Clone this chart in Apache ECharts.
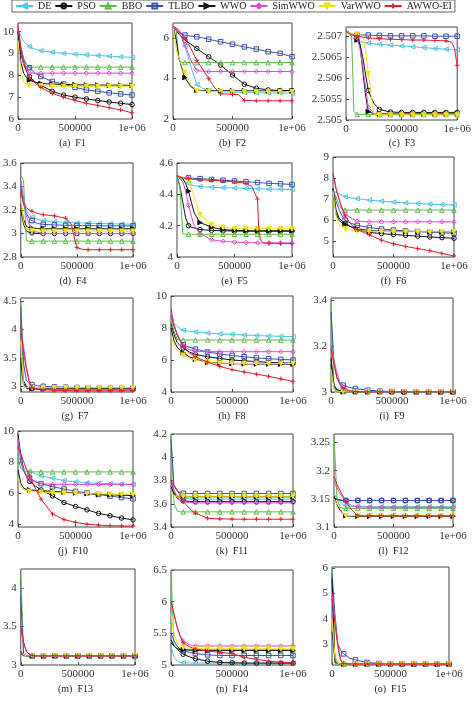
<!DOCTYPE html>
<html>
<head>
<meta charset="utf-8">
<script src="https://cdn.jsdelivr.net/npm/echarts@6/dist/echarts.min.js"></script>
<style>
  html, body { margin: 0; padding: 0; background: #fff; }
  #main { width: 474px; height: 707px; }
</style>
</head>
<body>
<div id="main"></div>
<script>
(function () {
    // algorithms, in legend order
    var ALGS = ['DE', 'PSO', 'BBO', 'TLBO', 'WWO', 'SimWWO', 'VarWWO', 'AWWO-EI'];

    // function evaluations (x) at which values were read
    var XS = [0, 25000, 50000, 75000, 100000, 150000, 200000, 300000, 400000, 500000, 600000, 700000, 800000, 900000, 1000000];
    var XS_F2 = [0, 25000, 50000, 75000, 100000, 150000, 200000, 250000, 300000, 350000, 400000, 500000, 550000, 600000, 700000, 800000, 900000, 1000000];
    var XS_F3 = [0, 25000, 50000, 60000, 70000, 100000, 125000, 150000, 175000, 200000, 250000, 300000, 400000, 500000, 600000, 700000, 800000, 900000, 950000, 975000, 1000000];
    var XS_F4 = [0, 25000, 50000, 75000, 100000, 150000, 200000, 300000, 400000, 450000, 475000, 500000, 550000, 600000, 700000, 800000, 900000, 1000000];
    var XS_F5 = [0, 25000, 50000, 75000, 100000, 125000, 150000, 200000, 300000, 400000, 500000, 600000, 650000, 700000, 710000, 725000, 750000, 800000, 900000, 1000000];

    // one row per algorithm: DE, PSO, BBO, TLBO, WWO, SimWWO, VarWWO, AWWO-EI
    var F1 = [
        [10.1, 9.8, 9.55, 9.42, 9.32, 9.2, 9.13, 9.06, 9.01, 8.97, 8.94, 8.91, 8.88, 8.85, 8.82],
        [10.0, 9.0, 8.5, 8.2, 7.95, 7.7, 7.55, 7.27, 7.1, 7.0, 6.92, 6.85, 6.78, 6.72, 6.66],
        [10.0, 9.2, 8.5, 8.4, 8.38, 8.38, 8.38, 8.38, 8.38, 8.38, 8.38, 8.38, 8.38, 8.38, 8.38],
        [10.1, 9.3, 8.75, 8.5, 8.35, 8.1, 7.95, 7.72, 7.6, 7.45, 7.33, 7.27, 7.2, 7.15, 7.1],
        [10.0, 8.6, 8.1, 7.9, 7.78, 7.68, 7.63, 7.6, 7.58, 7.57, 7.56, 7.56, 7.55, 7.55, 7.55],
        [10.2, 9.3, 8.7, 8.3, 8.12, 8.1, 8.1, 8.1, 8.1, 8.1, 8.1, 8.1, 8.1, 8.1, 8.1],
        [9.6, 8.2, 7.7, 7.58, 7.55, 7.53, 7.52, 7.51, 7.5, 7.5, 7.5, 7.5, 7.5, 7.5, 7.5],
        [10.3, 9.2, 8.6, 8.2, 7.9, 7.65, 7.45, 7.17, 7.0, 6.85, 6.72, 6.62, 6.52, 6.42, 6.28]
    ];
    var F2 = [
        [6.6, 6.45, 6.25, 6.0, 5.6, 4.6, 3.7, 3.5, 3.42, 3.38, 3.36, 3.33, 3.32, 3.31, 3.3, 3.29, 3.29, 3.28],
        [6.6, 6.4, 6.2, 6.05, 5.9, 5.7, 5.49, 5.28, 5.08, 4.88, 4.67, 4.18, 3.95, 3.72, 3.52, 3.44, 3.41, 3.41],
        [6.6, 6.5, 4.9, 4.8, 4.79, 4.79, 4.79, 4.79, 4.79, 4.79, 4.79, 4.79, 4.79, 4.79, 4.79, 4.79, 4.79, 4.79],
        [6.6, 6.45, 6.3, 6.2, 6.15, 6.1, 6.07, 6.01, 5.95, 5.88, 5.82, 5.7, 5.63, 5.57, 5.46, 5.33, 5.25, 5.08],
        [6.6, 6.0, 5.0, 4.5, 4.05, 3.6, 3.42, 3.41, 3.41, 3.4, 3.4, 3.4, 3.4, 3.4, 3.39, 3.39, 3.39, 3.39],
        [6.6, 6.45, 6.3, 6.0, 5.7, 4.9, 4.4, 4.36, 4.35, 4.35, 4.35, 4.35, 4.35, 4.35, 4.35, 4.35, 4.35, 4.35],
        [6.6, 5.5, 5.0, 4.6, 4.3, 3.7, 3.4, 3.38, 3.37, 3.36, 3.36, 3.35, 3.35, 3.35, 3.35, 3.35, 3.35, 3.35],
        [6.6, 6.5, 6.4, 6.2, 6.0, 5.5, 4.9, 4.45, 4.0, 3.55, 3.25, 3.22, 3.2, 2.92, 2.9, 2.9, 2.9, 2.9]
    ];
    var F3 = [
        [2.50712, 2.50705, 2.50698, 2.50695, 2.50692, 2.50688, 2.50686, 2.50685, 2.50684, 2.50683, 2.50681, 2.5068, 2.50678, 2.50676, 2.50674, 2.50672, 2.5067, 2.50668, 2.50667, 2.50667, 2.50667],
        [2.50712, 2.50708, 2.50704, 2.50703, 2.50702, 2.507, 2.5068, 2.5065, 2.5061, 2.5057, 2.5054, 2.50525, 2.50519, 2.50518, 2.50518, 2.50518, 2.50518, 2.50518, 2.50518, 2.50518, 2.50518],
        [2.5071, 2.50705, 2.507, 2.5062, 2.5052, 2.50513, 2.50513, 2.50513, 2.50513, 2.50513, 2.50513, 2.50513, 2.50513, 2.50513, 2.50513, 2.50513, 2.50513, 2.50513, 2.50513, 2.50513, 2.50513],
        [2.50712, 2.50706, 2.50704, 2.50703, 2.50703, 2.50703, 2.50702, 2.50702, 2.50702, 2.50702, 2.50701, 2.50701, 2.507, 2.507, 2.507, 2.507, 2.50699, 2.50699, 2.50699, 2.50699, 2.50699],
        [2.50712, 2.50708, 2.50704, 2.50703, 2.50702, 2.5069, 2.5068, 2.5062, 2.5056, 2.5052, 2.50515, 2.50515, 2.50515, 2.50515, 2.50515, 2.50515, 2.50515, 2.50515, 2.50515, 2.50515, 2.50515],
        [2.50712, 2.50708, 2.50704, 2.50703, 2.50702, 2.50695, 2.5067, 2.5063, 2.5058, 2.5053, 2.50516, 2.50515, 2.50515, 2.50515, 2.50515, 2.50515, 2.50515, 2.50515, 2.50515, 2.50515, 2.50515],
        [2.50712, 2.50708, 2.50705, 2.50704, 2.50704, 2.50703, 2.50702, 2.507, 2.5067, 2.5061, 2.50515, 2.50512, 2.50512, 2.50512, 2.50512, 2.50512, 2.50512, 2.50512, 2.50512, 2.50512, 2.50512],
        [2.50712, 2.50706, 2.50702, 2.50701, 2.50701, 2.507, 2.50698, 2.50697, 2.50696, 2.50695, 2.50694, 2.50693, 2.50692, 2.50691, 2.5069, 2.5069, 2.50689, 2.50688, 2.50685, 2.5067, 2.5063]
    ];
    var F4 = [
        [3.45, 3.3, 3.2, 3.16, 3.14, 3.12, 3.11, 3.1, 3.095, 3.093, 3.092, 3.09, 3.09, 3.088, 3.085, 3.083, 3.08, 3.08],
        [3.2, 3.08, 3.02, 3.01, 3.005, 3.0, 3.0, 3.0, 3.0, 3.0, 3.0, 3.0, 3.0, 3.0, 3.0, 3.0, 3.0, 3.0],
        [3.5, 3.45, 2.94, 2.935, 2.935, 2.935, 2.935, 2.935, 2.935, 2.935, 2.935, 2.935, 2.935, 2.935, 2.935, 2.935, 2.935, 2.935],
        [3.4, 3.25, 3.17, 3.13, 3.11, 3.085, 3.078, 3.073, 3.07, 3.07, 3.07, 3.068, 3.068, 3.067, 3.066, 3.065, 3.065, 3.065],
        [3.25, 3.12, 3.06, 3.05, 3.045, 3.042, 3.04, 3.04, 3.04, 3.04, 3.04, 3.04, 3.04, 3.04, 3.04, 3.04, 3.04, 3.04],
        [3.45, 3.3, 3.15, 3.08, 3.03, 3.01, 3.0, 3.0, 3.0, 3.0, 3.0, 3.0, 3.0, 3.0, 3.0, 3.0, 3.0, 3.0],
        [3.3, 3.1, 3.04, 3.03, 3.025, 3.022, 3.02, 3.02, 3.02, 3.02, 3.02, 3.02, 3.02, 3.02, 3.02, 3.02, 3.02, 3.02],
        [3.35, 3.26, 3.22, 3.2, 3.19, 3.17, 3.16, 3.15, 3.13, 3.08, 2.97, 2.88, 2.865, 2.862, 2.862, 2.862, 2.862, 2.862]
    ];
    var F5 = [
        [4.52, 4.5, 4.49, 4.48, 4.47, 4.462, 4.455, 4.45, 4.445, 4.442, 4.44, 4.438, 4.437, 4.436, 4.436, 4.435, 4.435, 4.433, 4.432, 4.43],
        [4.52, 4.45, 4.35, 4.25, 4.2, 4.19, 4.185, 4.175, 4.17, 4.167, 4.166, 4.165, 4.165, 4.165, 4.165, 4.165, 4.165, 4.165, 4.165, 4.165],
        [4.52, 4.45, 4.148, 4.145, 4.145, 4.145, 4.145, 4.145, 4.145, 4.145, 4.145, 4.145, 4.145, 4.145, 4.145, 4.145, 4.145, 4.145, 4.145, 4.145],
        [4.52, 4.51, 4.508, 4.506, 4.505, 4.503, 4.502, 4.5, 4.495, 4.49, 4.485, 4.48, 4.478, 4.475, 4.475, 4.474, 4.473, 4.47, 4.467, 4.463],
        [4.52, 4.51, 4.5, 4.47, 4.42, 4.35, 4.28, 4.22, 4.19, 4.175, 4.17, 4.168, 4.167, 4.167, 4.167, 4.167, 4.167, 4.167, 4.167, 4.167],
        [4.52, 4.5, 4.48, 4.42, 4.33, 4.26, 4.2, 4.15, 4.11, 4.1, 4.095, 4.092, 4.091, 4.09, 4.09, 4.09, 4.09, 4.09, 4.09, 4.09],
        [4.52, 4.515, 4.51, 4.5, 4.48, 4.44, 4.38, 4.27, 4.205, 4.19, 4.182, 4.18, 4.18, 4.18, 4.18, 4.18, 4.18, 4.18, 4.18, 4.18],
        [4.52, 4.51, 4.505, 4.5, 4.5, 4.498, 4.495, 4.493, 4.49, 4.485, 4.48, 4.47, 4.45, 4.37, 4.2, 4.11, 4.09, 4.088, 4.086, 4.085]
    ];
    var F6 = [
        [7.4, 7.32, 7.25, 7.18, 7.12, 7.06, 7.02, 6.95, 6.9, 6.86, 6.82, 6.79, 6.76, 6.74, 6.72],
        [7.5, 6.5, 6.1, 5.95, 5.85, 5.68, 5.55, 5.42, 5.36, 5.32, 5.28, 5.24, 5.2, 5.17, 5.14],
        [7.4, 7.1, 6.7, 6.5, 6.48, 6.48, 6.48, 6.48, 6.48, 6.48, 6.48, 6.48, 6.48, 6.48, 6.48],
        [7.5, 6.9, 6.5, 6.2, 6.0, 5.85, 5.75, 5.65, 5.58, 5.53, 5.49, 5.46, 5.43, 5.4, 5.38],
        [7.5, 6.3, 6.0, 5.85, 5.8, 5.68, 5.6, 5.5, 5.48, 5.47, 5.46, 5.46, 5.45, 5.45, 5.45],
        [8.3, 7.5, 7.0, 6.6, 6.3, 6.1, 5.95, 5.92, 5.92, 5.92, 5.92, 5.92, 5.92, 5.92, 5.92],
        [7.4, 6.2, 5.8, 5.68, 5.6, 5.54, 5.5, 5.47, 5.46, 5.45, 5.45, 5.45, 5.45, 5.45, 5.45],
        [8.2, 7.5, 7.0, 6.55, 6.2, 5.8, 5.55, 5.3, 5.05, 4.88, 4.75, 4.65, 4.55, 4.42, 4.3]
    ];
    var F7 = [
        [3.3, 3.0, 2.96, 2.955, 2.955, 2.955, 2.955, 2.955, 2.955, 2.955, 2.955, 2.955, 2.955, 2.955, 2.955],
        [3.5, 3.1, 3.0, 2.97, 2.96, 2.955, 2.955, 2.955, 2.955, 2.955, 2.955, 2.955, 2.955, 2.955, 2.955],
        [4.5, 3.0, 2.975, 2.975, 2.975, 2.975, 2.975, 2.975, 2.975, 2.975, 2.975, 2.975, 2.975, 2.975, 2.975],
        [4.4, 3.4, 3.1, 3.05, 3.03, 3.01, 3.0, 2.99, 2.985, 2.98, 2.975, 2.97, 2.968, 2.965, 2.962],
        [3.4, 3.05, 2.97, 2.96, 2.958, 2.955, 2.955, 2.955, 2.955, 2.955, 2.955, 2.955, 2.955, 2.955, 2.955],
        [4.0, 3.7, 3.35, 3.1, 3.0, 2.96, 2.95, 2.945, 2.94, 2.94, 2.94, 2.94, 2.94, 2.94, 2.94],
        [3.8, 3.0, 2.98, 2.976, 2.975, 2.975, 2.975, 2.975, 2.975, 2.975, 2.975, 2.975, 2.975, 2.975, 2.975],
        [4.0, 3.6, 3.3, 3.08, 2.98, 2.95, 2.94, 2.93, 2.925, 2.92, 2.92, 2.92, 2.92, 2.92, 2.92]
    ];
    var F8 = [
        [8.5, 8.25, 8.1, 7.95, 7.85, 7.8, 7.75, 7.68, 7.63, 7.6, 7.56, 7.53, 7.5, 7.48, 7.46],
        [8.3, 7.6, 7.1, 6.9, 6.75, 6.5, 6.35, 6.2, 6.1, 6.0, 5.95, 5.9, 5.85, 5.82, 5.8],
        [8.5, 7.8, 7.3, 7.26, 7.25, 7.25, 7.25, 7.25, 7.25, 7.25, 7.25, 7.25, 7.25, 7.25, 7.25],
        [9.2, 8.2, 7.6, 7.2, 6.95, 6.8, 6.68, 6.5, 6.38, 6.28, 6.2, 6.13, 6.08, 6.04, 6.0],
        [8.0, 7.2, 6.8, 6.6, 6.45, 6.2, 6.05, 5.85, 5.8, 5.77, 5.76, 5.75, 5.75, 5.74, 5.74],
        [9.0, 8.2, 7.6, 7.2, 6.9, 6.65, 6.55, 6.52, 6.52, 6.52, 6.52, 6.52, 6.52, 6.52, 6.52],
        [7.5, 6.9, 6.6, 6.45, 6.3, 6.12, 6.0, 5.85, 5.8, 5.79, 5.78, 5.78, 5.78, 5.78, 5.78],
        [8.8, 8.1, 7.6, 7.2, 6.85, 6.45, 6.2, 5.87, 5.6, 5.4, 5.25, 5.12, 4.98, 4.82, 4.66]
    ];
    var F9 = [
        [3.1, 3.02, 3.008, 3.003, 3.002, 3.001, 3.001, 3.001, 3.001, 3.001, 3.001, 3.001, 3.001, 3.001, 3.001],
        [3.12, 3.03, 3.01, 3.005, 3.003, 3.002, 3.001, 3.001, 3.001, 3.001, 3.001, 3.001, 3.001, 3.001, 3.001],
        [3.4, 3.01, 3.003, 3.002, 3.001, 3.001, 3.001, 3.001, 3.001, 3.001, 3.001, 3.001, 3.001, 3.001, 3.001],
        [3.35, 3.12, 3.06, 3.04, 3.03, 3.02, 3.015, 3.008, 3.004, 3.002, 3.001, 3.001, 3.001, 3.001, 3.001],
        [3.15, 3.02, 3.005, 3.002, 3.001, 3.001, 3.001, 3.001, 3.001, 3.001, 3.001, 3.001, 3.001, 3.001, 3.001],
        [3.2, 3.14, 3.08, 3.04, 3.02, 3.006, 3.003, 3.001, 3.001, 3.001, 3.001, 3.001, 3.001, 3.001, 3.001],
        [3.1, 3.015, 3.004, 3.002, 3.001, 3.001, 3.001, 3.001, 3.001, 3.001, 3.001, 3.001, 3.001, 3.001, 3.001],
        [3.19, 3.12, 3.06, 3.03, 3.015, 3.005, 3.002, 3.001, 3.001, 3.001, 3.001, 3.001, 3.001, 3.001, 3.001]
    ];
    var F10 = [
        [8.5, 7.9, 7.6, 7.5, 7.4, 7.25, 7.1, 6.95, 6.8, 6.72, 6.66, 6.62, 6.6, 6.57, 6.55],
        [9.8, 8.4, 7.5, 7.05, 6.75, 6.45, 6.2, 5.81, 5.38, 5.13, 4.91, 4.68, 4.53, 4.38, 4.26],
        [8.2, 7.6, 7.4, 7.37, 7.36, 7.36, 7.36, 7.36, 7.36, 7.36, 7.36, 7.36, 7.36, 7.36, 7.36],
        [9.5, 8.0, 7.4, 7.1, 6.95, 6.75, 6.6, 6.4, 6.25, 6.1, 6.0, 5.9, 5.8, 5.7, 5.62],
        [7.5, 6.6, 6.3, 6.22, 6.2, 6.17, 6.15, 6.1, 6.05, 6.0, 5.95, 5.9, 5.88, 5.85, 5.83],
        [9.5, 8.2, 7.5, 7.1, 6.9, 6.7, 6.6, 6.56, 6.55, 6.55, 6.55, 6.55, 6.55, 6.55, 6.55],
        [7.0, 6.4, 6.2, 6.12, 6.1, 6.08, 6.05, 6.02, 6.0, 5.98, 5.96, 5.94, 5.92, 5.91, 5.9],
        [9.0, 8.5, 8.0, 7.5, 7.1, 6.3, 5.6, 4.64, 4.28, 4.1, 3.98, 3.92, 3.89, 3.87, 3.86]
    ];
    var F11 = [
        [3.75, 3.68, 3.66, 3.65, 3.645, 3.642, 3.64, 3.64, 3.64, 3.64, 3.64, 3.64, 3.64, 3.64, 3.64],
        [3.8, 3.7, 3.65, 3.63, 3.625, 3.62, 3.618, 3.618, 3.618, 3.618, 3.618, 3.618, 3.618, 3.618, 3.618],
        [4.2, 3.6, 3.54, 3.53, 3.53, 3.53, 3.53, 3.53, 3.53, 3.53, 3.53, 3.53, 3.53, 3.53, 3.53],
        [4.15, 3.75, 3.71, 3.695, 3.69, 3.688, 3.688, 3.688, 3.688, 3.688, 3.688, 3.688, 3.688, 3.688, 3.688],
        [3.75, 3.68, 3.665, 3.662, 3.66, 3.66, 3.66, 3.66, 3.66, 3.66, 3.66, 3.66, 3.66, 3.66, 3.66],
        [3.8, 3.72, 3.66, 3.63, 3.62, 3.61, 3.607, 3.607, 3.607, 3.607, 3.607, 3.607, 3.607, 3.607, 3.607],
        [3.7, 3.67, 3.665, 3.665, 3.665, 3.665, 3.665, 3.665, 3.665, 3.665, 3.665, 3.665, 3.665, 3.665, 3.665],
        [3.8, 3.76, 3.72, 3.67, 3.62, 3.56, 3.52, 3.475, 3.47, 3.468, 3.467, 3.467, 3.467, 3.467, 3.467]
    ];
    var F12 = [
        [3.16, 3.15, 3.145, 3.14, 3.138, 3.137, 3.136, 3.136, 3.136, 3.136, 3.136, 3.136, 3.136, 3.136, 3.136],
        [3.15, 3.149, 3.148, 3.147, 3.147, 3.147, 3.147, 3.147, 3.147, 3.147, 3.147, 3.147, 3.147, 3.147, 3.147],
        [3.26, 3.15, 3.135, 3.133, 3.133, 3.133, 3.133, 3.133, 3.133, 3.133, 3.133, 3.133, 3.133, 3.133, 3.133],
        [3.152, 3.149, 3.148, 3.147, 3.147, 3.147, 3.147, 3.147, 3.147, 3.147, 3.147, 3.147, 3.147, 3.147, 3.147],
        [3.155, 3.14, 3.13, 3.124, 3.12, 3.119, 3.119, 3.119, 3.119, 3.119, 3.119, 3.119, 3.119, 3.119, 3.119],
        [3.18, 3.17, 3.16, 3.152, 3.145, 3.138, 3.136, 3.135, 3.135, 3.135, 3.135, 3.135, 3.135, 3.135, 3.135],
        [3.15, 3.14, 3.135, 3.125, 3.12, 3.12, 3.12, 3.12, 3.12, 3.12, 3.12, 3.12, 3.12, 3.12, 3.12],
        [3.19, 3.175, 3.165, 3.155, 3.145, 3.13, 3.12, 3.12, 3.12, 3.12, 3.12, 3.12, 3.12, 3.12, 3.12]
    ];
    var F13 = [
        [3.2, 3.13, 3.12, 3.12, 3.12, 3.12, 3.12, 3.12, 3.12, 3.12, 3.12, 3.12, 3.12, 3.12, 3.12],
        [3.18, 3.125, 3.12, 3.12, 3.12, 3.12, 3.12, 3.12, 3.12, 3.12, 3.12, 3.12, 3.12, 3.12, 3.12],
        [4.25, 3.13, 3.12, 3.12, 3.12, 3.12, 3.12, 3.12, 3.12, 3.12, 3.12, 3.12, 3.12, 3.12, 3.12],
        [3.9, 3.14, 3.12, 3.12, 3.12, 3.12, 3.12, 3.12, 3.12, 3.12, 3.12, 3.12, 3.12, 3.12, 3.12],
        [3.15, 3.12, 3.12, 3.12, 3.12, 3.12, 3.12, 3.12, 3.12, 3.12, 3.12, 3.12, 3.12, 3.12, 3.12],
        [3.45, 3.28, 3.17, 3.14, 3.125, 3.12, 3.12, 3.12, 3.12, 3.12, 3.12, 3.12, 3.12, 3.12, 3.12],
        [3.2, 3.13, 3.12, 3.12, 3.12, 3.12, 3.12, 3.12, 3.12, 3.12, 3.12, 3.12, 3.12, 3.12, 3.12],
        [3.5, 3.3, 3.18, 3.14, 3.125, 3.12, 3.12, 3.12, 3.12, 3.12, 3.12, 3.12, 3.12, 3.12, 3.12]
    ];
    var F14 = [
        [5.3, 5.12, 5.06, 5.04, 5.035, 5.03, 5.03, 5.03, 5.03, 5.03, 5.03, 5.03, 5.03, 5.03, 5.03],
        [5.35, 5.3, 5.25, 5.21, 5.17, 5.13, 5.1, 5.06, 5.04, 5.035, 5.03, 5.03, 5.03, 5.03, 5.03],
        [6.5, 5.3, 5.25, 5.24, 5.24, 5.24, 5.24, 5.24, 5.24, 5.24, 5.24, 5.24, 5.24, 5.24, 5.24],
        [5.5, 5.38, 5.3, 5.25, 5.22, 5.2, 5.18, 5.16, 5.15, 5.15, 5.15, 5.15, 5.15, 5.15, 5.15],
        [5.4, 5.3, 5.26, 5.245, 5.24, 5.235, 5.23, 5.23, 5.23, 5.23, 5.23, 5.23, 5.23, 5.23, 5.23],
        [6.0, 5.8, 5.6, 5.47, 5.38, 5.32, 5.3, 5.3, 5.3, 5.3, 5.3, 5.3, 5.3, 5.3, 5.3],
        [5.8, 5.5, 5.35, 5.3, 5.28, 5.265, 5.26, 5.255, 5.255, 5.255, 5.255, 5.255, 5.255, 5.255, 5.255],
        [6.0, 5.8, 5.6, 5.45, 5.35, 5.29, 5.25, 5.22, 5.2, 5.18, 5.12, 5.09, 5.06, 5.045, 5.035]
    ];
    var F15 = [
        [3.0, 2.4, 2.25, 2.23, 2.22, 2.22, 2.22, 2.22, 2.22, 2.22, 2.22, 2.22, 2.22, 2.22, 2.22],
        [3.5, 2.5, 2.25, 2.23, 2.22, 2.22, 2.22, 2.22, 2.22, 2.22, 2.22, 2.22, 2.22, 2.22, 2.22],
        [6.0, 2.24, 2.22, 2.22, 2.22, 2.22, 2.22, 2.22, 2.22, 2.22, 2.22, 2.22, 2.22, 2.22, 2.22],
        [5.8, 4.2, 3.0, 2.75, 2.62, 2.45, 2.38, 2.28, 2.24, 2.23, 2.225, 2.22, 2.22, 2.22, 2.22],
        [5.6, 2.3, 2.23, 2.22, 2.22, 2.22, 2.22, 2.22, 2.22, 2.22, 2.22, 2.22, 2.22, 2.22, 2.22],
        [5.0, 4.0, 3.0, 2.4, 2.25, 2.23, 2.22, 2.22, 2.22, 2.22, 2.22, 2.22, 2.22, 2.22, 2.22],
        [4.0, 2.5, 2.24, 2.22, 2.22, 2.22, 2.22, 2.22, 2.22, 2.22, 2.22, 2.22, 2.22, 2.22, 2.22],
        [4.8, 3.8, 2.9, 2.35, 2.24, 2.225, 2.22, 2.22, 2.22, 2.22, 2.22, 2.22, 2.22, 2.22, 2.22]
    ];

    var FUNCS = [F1, F2, F3, F4, F5, F6, F7, F8, F9, F10, F11, F12, F13, F14, F15];
    var FUNC_X = [XS, XS_F2, XS_F3, XS_F4, XS_F5, XS, XS, XS, XS, XS, XS, XS, XS, XS, XS];

    // y axis ranges and tick labels
    var Y_MIN = [6, 2, 2.505, 2.8, 4, 4.25, 2.9, 4, 3, 3.8, 3.4, 3.1, 3, 5, 2.18];
    var Y_MAX = [10.4, 6.75, 2.50721, 3.6, 4.6, 9, 4.55, 10, 3.41, 10, 4.2, 3.265, 4.25, 6.5, 6.05];
    var Y_TICKS = [
        [6, 7, 8, 9, 10],
        [2, 4, 6],
        [2.505, 2.5055, 2.506, 2.5065, 2.507],
        [2.8, 3, 3.2, 3.4, 3.6],
        [4, 4.2, 4.4, 4.6],
        [5, 6, 7, 8, 9],
        [3, 3.5, 4, 4.5],
        [4, 6, 8, 10],
        [3, 3.2, 3.4],
        [4, 6, 8, 10],
        [3.4, 3.6, 3.8, 4, 4.2],
        [3.1, 3.15, 3.2, 3.25],
        [3, 3.5, 4],
        [5, 5.5, 6, 6.5],
        [3, 4, 5, 6]
    ];
    var X_TICKS = [0, 500000, 1000000];
    var CAPTIONS = ['(a)  F1', '(b)  F2', '(c)  F3', '(d)  F4', '(e)  F5', '(f)  F6', '(g)  F7', '(h)  F8',
        '(i)  F9', '(j)  F10', '(k)  F11', '(l)  F12', '(m)  F13', '(n)  F14', '(o)  F15'];

    // panel boxes: left, top, width, height (px)
    var LAYOUT = [
        [13, 23, 119, 96], [173, 23, 119, 96], [346, 27, 112, 93],
        [13, 163, 120, 94], [177, 163, 115, 94], [333, 157, 121, 100],
        [17, 298, 116, 94], [171, 296, 122, 96], [331, 298, 122, 94],
        [13, 431, 120, 96], [171, 434, 122, 93], [334, 434, 119, 93],
        [16, 569, 119, 96], [171, 570, 122, 95], [332, 567, 117, 98]
    ];
    var CAPTION_Y = [143, 281, 416, 551, 689];

    var COLORS = ['#4cc4e4', '#111111', '#5cbc48', '#3a52b4', '#111111', '#e048d6', '#f0e21a', '#e61e2c'];
    var HOLLOW = 'rgba(255,255,255,0)';
    var MARKS = [
        { symbol: 'triangle', rotate: 90, fill: HOLLOW },
        { symbol: 'circle', rotate: 0, fill: HOLLOW },
        { symbol: 'triangle', rotate: 0, fill: HOLLOW },
        { symbol: 'rect', rotate: 0, fill: HOLLOW },
        { symbol: 'triangle', rotate: -90, fill: COLORS[4] },
        { symbol: 'diamond', rotate: 0, fill: HOLLOW },
        { symbol: 'triangle', rotate: 180, fill: COLORS[6] },
        { symbol: 'path://M0,5L10,5M5,0L5,10', rotate: 0, fill: HOLLOW }
    ];

    var FONT = 'Liberation Serif';
    var myChart = echarts.init(document.getElementById('main'), null, { renderer: 'canvas' });

    var grids = [], xAxes = [], yAxes = [], series = [], texts = [];

    LAYOUT.forEach(function (b, p) {
        grids.push({
            left: b[0], top: b[1], width: b[2], height: b[3],
            show: true, borderColor: '#444', borderWidth: 1, backgroundColor: 'transparent'
        });
        xAxes.push({
            gridIndex: p, type: 'value', min: 0, max: 1000000, interval: 500000,
            axisLine: { show: false },
            splitLine: { show: false },
            axisTick: { inside: true, length: 3, lineStyle: { color: '#444' }, customValues: X_TICKS },
            axisLabel: {
                customValues: X_TICKS, margin: 4, color: '#333', fontFamily: FONT, fontSize: 11,
                formatter: function (v) { return v === 1000000 ? '1e+06' : String(v); }
            }
        });
        yAxes.push({
            gridIndex: p, type: 'value', min: Y_MIN[p], max: Y_MAX[p],
            axisLine: { show: false },
            splitLine: { show: false },
            axisTick: { inside: true, length: 3, lineStyle: { color: '#444' }, customValues: Y_TICKS[p] },
            axisLabel: {
                customValues: Y_TICKS[p], margin: 4, color: '#333', fontFamily: FONT, fontSize: 11,
                formatter: function (v) { return String(+v.toFixed(5)); }
            }
        });
        var row = Math.floor(p / 3);
        texts.push({
            type: 'text', x: b[0] + b[2] / 2, y: CAPTION_Y[row],
            style: {
                text: CAPTIONS[p], textAlign: 'center', textVerticalAlign: 'middle',
                font: '10px "' + FONT + '"', fill: '#222'
            }
        });
    });

    FUNCS.forEach(function (fn, p) {
        var xs = FUNC_X[p];
        fn.forEach(function (vals, k) {
            if (vals.length !== xs.length) console.log('length mismatch', p + 1, ALGS[k]);
            series.push({
                name: ALGS[k], type: 'line', xAxisIndex: p, yAxisIndex: p,
                data: xs.map(function (x, j) { return [x, vals[j]]; }),
                symbol: MARKS[k].symbol,
                symbolRotate: MARKS[k].rotate,
                symbolSize: function (v) { return (v[0] > 0 && v[0] % 100000 === 0) ? 4.5 : 0; },
                showAllSymbol: true,
                lineStyle: { color: COLORS[k], width: 1 },
                itemStyle: { color: MARKS[k].fill, borderColor: COLORS[k], borderWidth: 1 },
                emphasis: { disabled: true },
                z: 2 + k
            });
        });
    });

    var option = {
        animation: false,
        backgroundColor: '#fff',
        legend: {
            data: ALGS, left: 12, top: 0, width: 460,
            itemWidth: 17, itemHeight: 6, itemGap: 3,
            padding: [1, 3], borderColor: '#666', borderWidth: 1,
            textStyle: { fontFamily: FONT, fontSize: 10, color: '#222' }
        },
        grid: grids,
        xAxis: xAxes,
        yAxis: yAxes,
        series: series,
        graphic: texts
    };
    myChart.setOption(option);
})();
</script>
</body>
</html>
